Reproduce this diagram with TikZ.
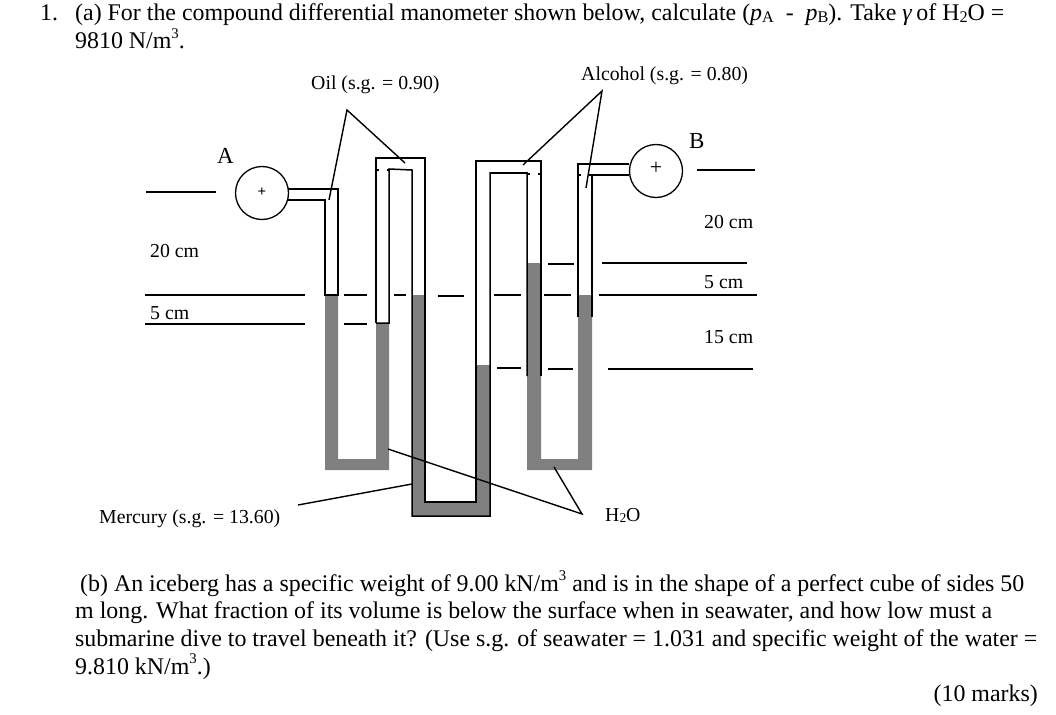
\documentclass[tikz,border=0pt]{standalone}
\usepackage{fontspec}
\setmainfont{Liberation Serif}
\newcommand{\bodysize}{\fontsize{23.9}{28}\selectfont}
\newcommand{\labelsize}{\fontsize{19.8}{23}\selectfont}
\newcommand{\cubed}{\raisebox{0.42em}{\fontsize{0.62em}{1em}\selectfont 3}}
\newcommand{\lowered}[1]{\raisebox{-0.08em}{\fontsize{0.68em}{1em}\selectfont #1}}
\definecolor{mercurygrey}{RGB}{128,128,128}
\tikzstyle{para} = [anchor=base west, inner sep=0pt, font=\bodysize]
\tikzstyle{marks} = [anchor=base east, inner sep=0pt, font=\bodysize]
\tikzstyle{tag} = [anchor=base west, inner sep=0pt, font=\labelsize]
\tikzstyle{point} = [anchor=base west, inner sep=0pt, font=\fontsize{23}{26}\selectfont]
\tikzstyle{bulb} = [circle, draw, line width=1.3pt, minimum size=53pt, inner sep=0pt]
\tikzstyle{plus} = [inner sep=0pt]
\tikzstyle{tube} = [line width=1.5pt]
\tikzstyle{level} = [line width=1.4pt]
\tikzstyle{interface} = [line width=1.2pt, dash pattern=on 3pt off 8pt]
\tikzstyle{leader} = [line width=1.4pt]
\tikzstyle{mercury} = [fill=mercurygrey, draw=none]

\begin{document}
\begin{tikzpicture}[x=1pt, y=-1pt]
\useasboundingbox (0,0) rectangle (1056,714);

% question text
\node (num) [para] at (40,21) {1.};
\node (parta) [para] at (75,21) {(a) For the compound differential manometer shown below, calculate (\textit{p}\lowered{A}\ \ -\ \ \textit{p}\lowered{B}). Take \textit{γ}\,of H\lowered{2}O =};
\node (partaend) [para] at (75,49) {9810 N/m\cubed.};
\node (partb) [para] at (80,591) {(b) An iceberg has a specific weight of 9.00 kN/m\cubed{} and is in the shape of a perfect cube of sides 50};
\node (partbtwo) [para] at (75,618) {m long. What fraction of its volume is below the surface when in seawater, and how low must a};
\node (partbthree) [para] at (75,646) {submarine dive to travel beneath it? (Use s.g. of seawater = 1.031 and specific weight of the water =};
\node (partbfour) [para] at (75,674) {9.810 kN/m\cubed.)};
\node (tenmarks) [marks] at (1038,701) {(10 marks)};

% labels
\node (oil) [tag] at (311,90) {Oil (s.g. = 0.90)};
\node (alcohol) [tag] at (581,81) {Alcohol (s.g. = 0.80)};
\node (lblA) [point] at (217,164) {A};
\node (lblB) [point] at (689,149) {B};
\node (leftbig) [tag] at (150,257) {20 cm};
\node (leftsmall) [tag] at (150,319) {5 cm};
\node (rightbig) [tag] at (704,228) {20 cm};
\node (rightsmall) [tag] at (704,288) {5 cm};
\node (rightlow) [tag] at (704,343) {15 cm};
\node (hg) [tag] at (99,523) {Mercury (s.g. = 13.60)};
\node (water) [tag] at (605,521) {H\lowered{2}O};

% mercury columns
\fill [mercury] (325,295) -- (338,295) -- (338,459) -- (376,459) -- (376,323) -- (389,323) -- (389,470) -- (325,470) -- cycle;
\fill [mercury] (412,295) -- (425,295) -- (425,502) -- (476,502) -- (476,365) -- (490,365) -- (490,516) -- (412,516) -- cycle;
\fill [mercury] (527,263) -- (541,263) -- (541,459) -- (578,459) -- (578,295) -- (592,295) -- (592,470) -- (527,470) -- cycle;

% pressure points
\node (bulbA) [bulb] at (262,193) {};
\node (plusA) [plus, font=\fontsize{15}{15}\selectfont\bfseries] at (262,192) {+};
\node (bulbB) [bulb] at (656,171) {};
\node (plusB) [plus, font=\fontsize{22}{22}\selectfont] at (656,168) {+};

% tube walls
\coordinate (stubAtop) at (288,189);
\coordinate (stubAlow) at (288,200);
\coordinate (stubBtop) at (629,164);
\coordinate (stubBlow) at (629,175);
\draw [tube] (stubAtop) -- (338,189) -- (338,295) -- (325,295) -- (325,200) -- (stubAlow);
\draw [tube] (376,323) -- (376,158) -- (425,158) -- (425,502) -- (476,502) -- (476,161) -- (541,161) -- (541,376);
\draw [tube] (376,323) -- (389,323) -- (389,169) -- (412,170) -- (412,516) -- (490,516) -- (490,173) -- (527,173) -- (527,376);
\draw [tube] (stubBtop) -- (578,164) -- (578,317);
\draw [tube] (stubBlow) -- (592,175) -- (592,317);

% oil and alcohol tops
\draw [interface] (376,170) -- (389,170);
\draw [interface] (527,174) -- (541,174);
\draw [interface] (578,175) -- (592,175);

% level lines
\draw [level] (146,192) -- (216,192);
\draw [level] (697,170) -- (755,170);
\draw [level] (145,295) -- (305,295);
\draw [level] (145,324) -- (305,324);
\draw [level] (344,295) -- (367,295);
\draw [level] (344,324) -- (367,324);
\draw [level] (394,295) -- (406,295);
\draw [level] (438,296) -- (464,296);
\draw [level] (494,295) -- (521,295);
\draw [level] (544,295) -- (571,295);
\draw [level] (599,295) -- (757,295);
\draw [level] (548,264) -- (574,264);
\draw [level] (602,263) -- (747,263);
\draw [level] (497,368) -- (521,368);
\draw [level] (548,369) -- (573,369);
\draw [level] (608,369) -- (753,369);

% leaders
\coordinate (oilapex) at (347,110);
\coordinate (oilleft) at (329,200);
\coordinate (oilright) at (405,163);
\coordinate (alcapex) at (602,91);
\coordinate (alcleft) at (523,165);
\coordinate (alcright) at (586,188);
\coordinate (hgleft) at (298,505);
\coordinate (hgright) at (412,484);
\coordinate (waterapex) at (582,514);
\coordinate (waterleft) at (388,449);
\coordinate (waterright) at (554,467);
\draw [leader] (oilleft) -- (oilapex) -- (oilright);
\draw [leader] (alcleft) -- (alcapex) -- (alcright);
\draw [leader] (hgleft) -- (hgright);
\draw [leader] (waterleft) -- (waterapex) -- (waterright);
\end{tikzpicture}
\end{document}
